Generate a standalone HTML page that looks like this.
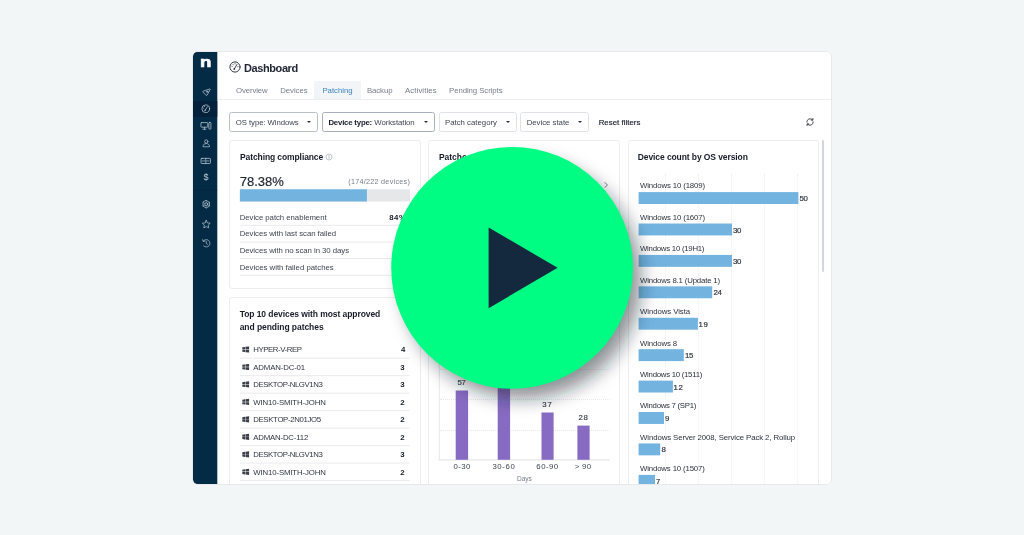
<!DOCTYPE html>
<html lang="en">
<head>
<meta charset="utf-8">
<title>Dashboard - Patching</title>
<style>
html,body{margin:0;padding:0;}
body{width:1024px;height:535px;overflow:hidden;background:#f3f6f7;font-family:"Liberation Sans", sans-serif;}
#stage{position:relative;width:1024px;height:535px;overflow:hidden;background:#f3f6f7;}
#app{position:absolute;left:192px;top:51px;width:640px;height:434px;background:#fff;border-radius:5px;overflow:hidden;filter:blur(0.4px);}
#app:after{content:'';position:absolute;left:0;top:0;right:0;bottom:0;border:1px solid #e6e9eb;border-radius:5px;pointer-events:none;}
#ui{position:absolute;left:-192px;top:-51px;width:1024px;height:535px;}
#ui div,#ui svg{position:absolute;}
.t{position:absolute;white-space:pre;line-height:1;}
#play{position:absolute;left:0;top:0;width:1024px;height:535px;}
</style>
</head>
<body>
<div id="stage">
<div id="app"><div id="ui">
<div style="left:314.4px;top:80.7px;width:46.4px;height:18.6px;background:#f1f5f8"></div>
<div style="left:217.0px;top:99.0px;width:614.0px;height:1.0px;background:#eceef0"></div>
<div style="left:229.0px;top:112.0px;width:89.0px;height:20.0px;border:1px solid #b9bfc8;border-radius:2.5px;box-sizing:border-box;background:#fff"></div>
<div style="left:322.0px;top:112.0px;width:113.0px;height:20.0px;border:1px solid #a9afbb;border-radius:2.5px;box-sizing:border-box;background:#fff"></div>
<div style="left:439.0px;top:112.0px;width:78.0px;height:20.0px;border:1px solid #dfe3e7;border-radius:2.5px;box-sizing:border-box;background:#fff"></div>
<div style="left:520.0px;top:112.0px;width:69.0px;height:20.0px;border:1px solid #dfe3e7;border-radius:2.5px;box-sizing:border-box;background:#fff"></div>
<div style="left:307.4px;top:121.2px;width:0;height:0;border-left:2.2px solid transparent;border-right:2.2px solid transparent;border-top:2.6px solid #2a2f3a"></div>
<div style="left:424.4px;top:121.2px;width:0;height:0;border-left:2.2px solid transparent;border-right:2.2px solid transparent;border-top:2.6px solid #2a2f3a"></div>
<div style="left:505.5px;top:121.2px;width:0;height:0;border-left:2.2px solid transparent;border-right:2.2px solid transparent;border-top:2.6px solid #2a2f3a"></div>
<div style="left:577.8px;top:121.2px;width:0;height:0;border-left:2.2px solid transparent;border-right:2.2px solid transparent;border-top:2.6px solid #2a2f3a"></div>
<div style="left:229.0px;top:140.0px;width:192.0px;height:149.0px;border:1px solid #ebedef;border-radius:3px;box-sizing:border-box;background:#fff"></div>
<div style="left:229.0px;top:297.0px;width:192.0px;height:203.0px;border:1px solid #ebedef;border-radius:3px;box-sizing:border-box;background:#fff"></div>
<div style="left:428.0px;top:140.0px;width:192.0px;height:360.0px;border:1px solid #ebedef;border-radius:3px;box-sizing:border-box;background:#fff"></div>
<div style="left:628.0px;top:140.0px;width:191.0px;height:360.0px;border:1px solid #ebedef;border-radius:3px;box-sizing:border-box;background:#fff"></div>
<div style="left:821.6px;top:140.4px;width:2.6px;height:131.6px;background:#d3d6da;border-radius:1.3px"></div>
<div style="left:664.5px;top:174.0px;width:1.0px;height:310.0px;border-left:1px dotted #eeeff1;box-sizing:border-box"></div>
<div style="left:697.7px;top:174.0px;width:1.0px;height:310.0px;border-left:1px dotted #eeeff1;box-sizing:border-box"></div>
<div style="left:730.9px;top:174.0px;width:1.0px;height:310.0px;border-left:1px dotted #eeeff1;box-sizing:border-box"></div>
<div style="left:764.1px;top:174.0px;width:1.0px;height:310.0px;border-left:1px dotted #eeeff1;box-sizing:border-box"></div>
<div style="left:797.3px;top:174.0px;width:1.0px;height:310.0px;border-left:1px dotted #eeeff1;box-sizing:border-box"></div>
<div style="left:439.5px;top:338.7px;width:170.5px;height:1.0px;border-top:1px dotted #e9eaec;box-sizing:border-box"></div>
<div style="left:439.5px;top:368.9px;width:170.5px;height:1.0px;border-top:1px dotted #e9eaec;box-sizing:border-box"></div>
<div style="left:439.5px;top:399.2px;width:170.5px;height:1.0px;border-top:1px dotted #e9eaec;box-sizing:border-box"></div>
<div style="left:439.5px;top:429.5px;width:170.5px;height:1.0px;border-top:1px dotted #e9eaec;box-sizing:border-box"></div>
<svg style="left:0;top:0" width="1024" height="535" viewBox="0 0 1024 535"><path d="M197.6 51.7 H217.3 V484.2 H197.6 A4.6 4.6 0 0 1 193 479.6 V56.3 A4.6 4.6 0 0 1 197.6 51.7 Z" fill="#042b46"/><rect x="193" y="101" width="24.3" height="15.8" fill="#03213a"/><rect x="193" y="189.8" width="24.3" height="0.9" fill="#03213a" opacity=".6"/><rect x="239.90" y="189.30" width="170.10" height="12.20" fill="#e6e7e9"/><rect x="239.90" y="189.30" width="127.00" height="12.20" fill="#72b3e0"/><rect x="239.90" y="224.80" width="169.80" height="1.00" fill="#e9eaed"/><rect x="239.90" y="241.60" width="169.80" height="1.00" fill="#e9eaed"/><rect x="239.90" y="258.00" width="169.80" height="1.00" fill="#e9eaed"/><rect x="239.90" y="274.80" width="169.80" height="1.00" fill="#e9eaed"/><rect x="239.90" y="357.70" width="169.80" height="1.00" fill="#e9eaed"/><path transform="translate(242.3 346.40)" fill="#3a3f4a" d="M0 0.9 L2.7 0.5 V2.85 H0 Z M3.15 0.45 L6.8 0 V2.85 H3.15 Z M0 3.3 H2.7 V5.65 L0 5.3 Z M3.15 3.3 H6.8 V6.2 L3.15 5.75 Z"/><rect x="239.90" y="375.18" width="169.80" height="1.00" fill="#e9eaed"/><path transform="translate(242.3 363.88)" fill="#3a3f4a" d="M0 0.9 L2.7 0.5 V2.85 H0 Z M3.15 0.45 L6.8 0 V2.85 H3.15 Z M0 3.3 H2.7 V5.65 L0 5.3 Z M3.15 3.3 H6.8 V6.2 L3.15 5.75 Z"/><rect x="239.90" y="392.66" width="169.80" height="1.00" fill="#e9eaed"/><path transform="translate(242.3 381.36)" fill="#3a3f4a" d="M0 0.9 L2.7 0.5 V2.85 H0 Z M3.15 0.45 L6.8 0 V2.85 H3.15 Z M0 3.3 H2.7 V5.65 L0 5.3 Z M3.15 3.3 H6.8 V6.2 L3.15 5.75 Z"/><rect x="239.90" y="410.14" width="169.80" height="1.00" fill="#e9eaed"/><path transform="translate(242.3 398.84)" fill="#3a3f4a" d="M0 0.9 L2.7 0.5 V2.85 H0 Z M3.15 0.45 L6.8 0 V2.85 H3.15 Z M0 3.3 H2.7 V5.65 L0 5.3 Z M3.15 3.3 H6.8 V6.2 L3.15 5.75 Z"/><rect x="239.90" y="427.62" width="169.80" height="1.00" fill="#e9eaed"/><path transform="translate(242.3 416.32)" fill="#3a3f4a" d="M0 0.9 L2.7 0.5 V2.85 H0 Z M3.15 0.45 L6.8 0 V2.85 H3.15 Z M0 3.3 H2.7 V5.65 L0 5.3 Z M3.15 3.3 H6.8 V6.2 L3.15 5.75 Z"/><rect x="239.90" y="445.10" width="169.80" height="1.00" fill="#e9eaed"/><path transform="translate(242.3 433.80)" fill="#3a3f4a" d="M0 0.9 L2.7 0.5 V2.85 H0 Z M3.15 0.45 L6.8 0 V2.85 H3.15 Z M0 3.3 H2.7 V5.65 L0 5.3 Z M3.15 3.3 H6.8 V6.2 L3.15 5.75 Z"/><rect x="239.90" y="462.58" width="169.80" height="1.00" fill="#e9eaed"/><path transform="translate(242.3 451.28)" fill="#3a3f4a" d="M0 0.9 L2.7 0.5 V2.85 H0 Z M3.15 0.45 L6.8 0 V2.85 H3.15 Z M0 3.3 H2.7 V5.65 L0 5.3 Z M3.15 3.3 H6.8 V6.2 L3.15 5.75 Z"/><rect x="239.90" y="480.06" width="169.80" height="1.00" fill="#e9eaed"/><path transform="translate(242.3 468.76)" fill="#3a3f4a" d="M0 0.9 L2.7 0.5 V2.85 H0 Z M3.15 0.45 L6.8 0 V2.85 H3.15 Z M0 3.3 H2.7 V5.65 L0 5.3 Z M3.15 3.3 H6.8 V6.2 L3.15 5.75 Z"/><rect x="638.60" y="192.10" width="159.80" height="11.90" fill="#72b3e0"/><rect x="638.60" y="223.52" width="93.40" height="11.90" fill="#72b3e0"/><rect x="638.60" y="254.94" width="93.40" height="11.90" fill="#72b3e0"/><rect x="638.60" y="286.36" width="73.60" height="11.90" fill="#72b3e0"/><rect x="638.60" y="317.78" width="59.30" height="11.90" fill="#72b3e0"/><rect x="638.60" y="349.20" width="45.20" height="11.90" fill="#72b3e0"/><rect x="638.60" y="380.62" width="34.30" height="11.90" fill="#72b3e0"/><rect x="638.60" y="412.04" width="25.40" height="11.90" fill="#72b3e0"/><rect x="638.60" y="443.46" width="21.60" height="11.90" fill="#72b3e0"/><rect x="638.60" y="474.88" width="16.40" height="11.90" fill="#72b3e0"/><rect x="438.80" y="330.00" width="0.90" height="130.30" fill="#e2e4e7"/><rect x="438.80" y="459.40" width="171.20" height="1.00" fill="#dfe1e4"/><rect x="455.70" y="390.50" width="12.40" height="69.30" fill="#876bc3"/><rect x="497.70" y="369.50" width="12.40" height="90.30" fill="#876bc3"/><rect x="541.50" y="412.50" width="12.10" height="47.30" fill="#876bc3"/><rect x="577.40" y="425.60" width="12.20" height="34.20" fill="#876bc3"/></svg>
<span class="t" style="z-index:4;left:200.3px;top:53.3px;font-size:16.5px;font-weight:700;color:#fff;-webkit-text-stroke:0.7px #fff;transform:scale(1.13,0.9);transform-origin:0 100%">n</span>
<svg style="left:200.60px;top:86.10px;z-index:4" width="11" height="11" viewBox="0 0 12 12" ><g stroke="#bccad4" stroke-width="0.8" fill="none" stroke-linecap="round" stroke-linejoin="round"><path d="M9.5 3.2 C9.9 3 10.2 3.4 10 3.8 L6.6 10 C6.3 10.5 5.8 10.5 5.5 10.1 L2.1 6.6 C1.8 6.2 1.9 5.8 2.4 5.6 Z"/><circle cx="6.6" cy="6.2" r="0.8"/></g></svg>
<svg style="left:200.25px;top:103.05px;z-index:4" width="11.5" height="11.5" viewBox="0 0 12 12" ><g stroke="#bccad4" stroke-width="0.8" fill="none" stroke-linecap="round" stroke-linejoin="round"><circle cx="6" cy="6" r="4.0"/><path d="M5.3 7.6 L7.7 3.9"/><circle cx="5.3" cy="7.6" r="0.7" fill="#bccad4" stroke="none"/><path d="M3.3 5.2 L3.6 5.4 M4.7 3.5 L4.9 3.8"/></g></svg>
<svg style="left:200.00px;top:120.30px;z-index:4" width="12" height="12" viewBox="0 0 13 13" ><g stroke="#bccad4" stroke-width="0.8" fill="none" stroke-linecap="round" stroke-linejoin="round"><rect x="1" y="2.8" width="7.4" height="5" rx="0.6"/><path d="M3.2 10 H6.4 M4.8 7.9 V9.9"/><rect x="9.6" y="2.6" width="2.2" height="7.4" rx="0.9"/></g></svg>
<svg style="left:200.75px;top:138.05px;z-index:4" width="10.5" height="10.5" viewBox="0 0 12 12" ><g stroke="#bccad4" stroke-width="0.8" fill="none" stroke-linecap="round" stroke-linejoin="round"><circle cx="6" cy="4" r="1.9"/><path d="M2.3 9.6 C2.3 7.2 4 6.4 6 6.4 C8 6.4 9.7 7.2 9.7 9.6 Z"/></g></svg>
<svg style="left:200.25px;top:154.65px;z-index:4" width="11.5" height="11.5" viewBox="0 0 12 12" ><g stroke="#bccad4" stroke-width="0.8" fill="none" stroke-linecap="round" stroke-linejoin="round"><rect x="1.1" y="3.5" width="9.8" height="5.4" rx="0.8"/><path d="M2.6 6.2 H5.2 M6.8 6.2 H9.4 M6 3.6 V8.8" stroke-width="0.7"/></g></svg>
<span class="t" style="z-index:4;left:203.5px;top:173.2px;font-size:9px;color:#bccad4">$</span>
<svg style="left:200.75px;top:199.05px;z-index:4" width="10.5" height="10.5" viewBox="0 0 12 12" ><g stroke="#bccad4" stroke-width="0.8" fill="none" stroke-linecap="round" stroke-linejoin="round"><path d="M6 1.7 L9.7 3.85 V8.15 L6 10.3 L2.3 8.15 V3.85 Z"/><circle cx="6" cy="6" r="1.7"/><path d="M6 1.7 V4.3 M6 7.7 V10.3 M2.3 3.85 L4.5 5.1 M9.7 3.85 L7.5 5.1 M2.3 8.15 L4.5 6.9 M9.7 8.15 L7.5 6.9" stroke-width="0.5"/></g></svg>
<svg style="left:200.75px;top:218.75px;z-index:4" width="10.5" height="10.5" viewBox="0 0 12 12" ><g stroke="#bccad4" stroke-width="0.8" fill="none" stroke-linecap="round" stroke-linejoin="round"><path d="M6 1.5 L7.35 4.4 L10.5 4.8 L8.2 7 L8.8 10.2 L6 8.65 L3.2 10.2 L3.8 7 L1.5 4.8 L4.65 4.4 Z"/></g></svg>
<svg style="left:200.75px;top:237.55px;z-index:4" width="10.5" height="10.5" viewBox="0 0 12 12" ><g stroke="#bccad4" stroke-width="0.8" fill="none" stroke-linecap="round" stroke-linejoin="round"><path d="M2.6 3.6 A4.2 4.2 0 1 1 3.1 9.1"/><path d="M2 1.9 L2.4 3.9 L4.4 3.6"/><path d="M6 4 V6.2 L7.4 7.2"/></g></svg>
<svg style="left:227.60px;top:60.30px;z-index:4" width="14" height="14" viewBox="0 0 14 14" ><g stroke="#2a2f3a" stroke-width="0.95" fill="none" stroke-linecap="round" stroke-linejoin="round"><circle cx="7" cy="7" r="5.1"/><path d="M6.3 8.9 L8.9 4.5"/><circle cx="6.3" cy="8.9" r="0.9" fill="#2a2f3a" stroke="none"/><path d="M3.8 6.3 L4.3 6.5 M5 4.4 L5.3 4.8 M7 3.4 V3.9 M10.2 6.6 L9.7 6.7" stroke-width="0.7"/></g></svg>
<svg style="left:324.50px;top:153.20px;z-index:4" width="8" height="8" viewBox="0 0 8 8" ><g stroke="#9aa0a9" stroke-width="0.6" fill="none"><circle cx="4" cy="4" r="3.0"/><path d="M4 3.7 V5.6 M4 2.4 V2.7" stroke-linecap="round"/></g></svg>
<svg style="left:805.40px;top:117.20px;z-index:4" width="10" height="10" viewBox="0 0 10 10" ><g stroke="#2a2f3a" stroke-width="0.85" fill="none" stroke-linecap="round" stroke-linejoin="round"><path d="M1.8 5.2 A3.3 3.3 0 0 1 7.6 2.9"/><path d="M8.2 4.8 A3.3 3.3 0 0 1 2.4 7.1"/><path d="M7.9 1.4 V3.1 H6.2"/><path d="M2.1 8.6 V6.9 H3.8"/></g></svg>
<svg style="left:602.00px;top:180.70px;z-index:4" width="8" height="8" viewBox="0 0 8 8" ><path d="M3 1.6 L5.4 4 L3 6.4" stroke="#5f646e" stroke-width="0.85" fill="none" stroke-linecap="round" stroke-linejoin="round"/></svg>
<span class="t" style="left:244.10px;top:63px;font-size:11px;font-weight:700;color:#222735;letter-spacing:-0.420px">Dashboard</span>
<span class="t" style="left:236.00px;top:87px;font-size:7.8px;color:#777d88;letter-spacing:-0.115px">Overview</span>
<span class="t" style="left:280.32px;top:87px;font-size:7.8px;color:#777d88;letter-spacing:-0.085px">Devices</span>
<span class="t" style="left:322.44px;top:87px;font-size:7.8px;color:#3d83bf;letter-spacing:-0.022px">Patching</span>
<span class="t" style="left:366.88px;top:87px;font-size:7.8px;color:#777d88;letter-spacing:-0.071px">Backup</span>
<span class="t" style="left:405.10px;top:87px;font-size:7.8px;color:#777d88;letter-spacing:0.076px">Activities</span>
<span class="t" style="left:449.10px;top:87px;font-size:7.8px;color:#777d88;letter-spacing:-0.083px">Pending Scripts</span>
<span class="t" style="left:235.78px;top:119px;font-size:7.8px;color:#3f444f;letter-spacing:-0.076px">OS type: Windows</span>
<span class="t" style="left:328.44px;top:119px;font-size:7.8px;font-weight:700;color:#171c28;letter-spacing:-0.197px">Device type:</span>
<span class="t" style="left:374.22px;top:119px;font-size:7.8px;color:#3f444f;letter-spacing:-0.055px">Workstation</span>
<span class="t" style="left:445.00px;top:119px;font-size:7.8px;color:#3f444f;letter-spacing:-0.001px">Patch category</span>
<span class="t" style="left:526.66px;top:119px;font-size:7.8px;color:#3f444f;letter-spacing:-0.015px">Device state</span>
<span class="t" style="left:598.66px;top:119px;font-size:7.8px;-webkit-text-stroke:0.18px #171c28;color:#171c28;letter-spacing:0.042px">Reset filters</span>
<span class="t" style="left:240.00px;top:153px;font-size:8.5px;font-weight:700;color:#171c28;letter-spacing:-0.100px">Patching compliance</span>
<span class="t" style="left:239.66px;top:175px;font-size:13px;-webkit-text-stroke:0.18px #222735;color:#222735;letter-spacing:0.012px">78.38%</span>
<span class="t" style="left:348.22px;top:178px;font-size:7.2px;color:#777d88;letter-spacing:0.277px">(174/222 devices)</span>
<span class="t" style="left:239.66px;top:214px;font-size:7.8px;color:#3f444f;letter-spacing:-0.047px">Device patch enablement</span>
<span class="t" style="left:389.32px;top:214px;font-size:7.8px;font-weight:700;color:#171c28;letter-spacing:0.470px">84%</span>
<span class="t" style="left:239.66px;top:230px;font-size:7.8px;color:#3f444f;letter-spacing:-0.040px">Devices with last scan failed</span>
<span class="t" style="left:239.66px;top:247px;font-size:7.8px;color:#3f444f;letter-spacing:-0.052px">Devices with no scan in 30 days</span>
<span class="t" style="left:239.66px;top:264px;font-size:7.8px;color:#3f444f;letter-spacing:0.000px">Devices with failed patches</span>
<span class="t" style="left:239.66px;top:310px;font-size:8.5px;font-weight:700;color:#171c28;letter-spacing:-0.073px">Top 10 devices with most approved</span>
<span class="t" style="left:239.66px;top:323px;font-size:8.5px;font-weight:700;color:#171c28;letter-spacing:-0.058px">and pending patches</span>
<span class="t" style="left:253.22px;top:346px;font-size:7.8px;color:#30353f;letter-spacing:-0.409px">HYPER-V-REP</span>
<span class="t" style="left:401.12px;top:346px;font-size:7.8px;font-weight:700;color:#171c28;letter-spacing:0.056px">4</span>
<span class="t" style="left:253.22px;top:364px;font-size:7.8px;color:#30353f;letter-spacing:-0.137px">ADMAN-DC-01</span>
<span class="t" style="left:400.32px;top:364px;font-size:7.8px;font-weight:700;color:#171c28;letter-spacing:0.056px">3</span>
<span class="t" style="left:253.22px;top:381px;font-size:7.8px;color:#30353f;letter-spacing:-0.408px">DESKTOP-NLGV1N3</span>
<span class="t" style="left:400.32px;top:381px;font-size:7.8px;font-weight:700;color:#171c28;letter-spacing:0.056px">3</span>
<span class="t" style="left:253.22px;top:399px;font-size:7.8px;color:#30353f;letter-spacing:-0.126px">WIN10-SMITH-JOHN</span>
<span class="t" style="left:400.32px;top:399px;font-size:7.8px;font-weight:700;color:#171c28;letter-spacing:0.056px">2</span>
<span class="t" style="left:253.22px;top:416px;font-size:7.8px;color:#30353f;letter-spacing:-0.339px">DESKTOP-2N01JO5</span>
<span class="t" style="left:400.32px;top:416px;font-size:7.8px;font-weight:700;color:#171c28;letter-spacing:0.056px">2</span>
<span class="t" style="left:253.22px;top:434px;font-size:7.8px;color:#30353f;letter-spacing:-0.176px">ADMAN-DC-112</span>
<span class="t" style="left:400.32px;top:434px;font-size:7.8px;font-weight:700;color:#171c28;letter-spacing:0.056px">2</span>
<span class="t" style="left:253.22px;top:451px;font-size:7.8px;color:#30353f;letter-spacing:-0.408px">DESKTOP-NLGV1N3</span>
<span class="t" style="left:400.32px;top:451px;font-size:7.8px;font-weight:700;color:#171c28;letter-spacing:0.056px">3</span>
<span class="t" style="left:253.22px;top:469px;font-size:7.8px;color:#30353f;letter-spacing:-0.126px">WIN10-SMITH-JOHN</span>
<span class="t" style="left:400.32px;top:469px;font-size:7.8px;font-weight:700;color:#171c28;letter-spacing:0.056px">2</span>
<span class="t" style="left:438.88px;top:153px;font-size:8.5px;font-weight:700;color:#171c28;letter-spacing:-0.017px">Patche</span>
<span class="t" style="left:457.56px;top:379px;font-size:7.8px;-webkit-text-stroke:0.18px #3a3f4a;color:#3a3f4a;letter-spacing:-0.494px">57</span>
<span class="t" style="left:542.32px;top:401px;font-size:7.8px;-webkit-text-stroke:0.18px #3a3f4a;color:#3a3f4a;letter-spacing:0.800px">37</span>
<span class="t" style="left:578.44px;top:414px;font-size:7.8px;-webkit-text-stroke:0.18px #3a3f4a;color:#3a3f4a;letter-spacing:0.640px">28</span>
<span class="t" style="left:453.44px;top:463px;font-size:7.8px;color:#3f444f;letter-spacing:0.404px">0-30</span>
<span class="t" style="left:492.42px;top:463px;font-size:7.8px;color:#3f444f;letter-spacing:0.609px">30-60</span>
<span class="t" style="left:536.32px;top:463px;font-size:7.8px;color:#3f444f;letter-spacing:0.489px">60-90</span>
<span class="t" style="left:574.76px;top:463px;font-size:7.8px;color:#3f444f;letter-spacing:0.318px">&gt; 90</span>
<span class="t" style="left:517.00px;top:476px;font-size:6.5px;color:#777d88;letter-spacing:-0.050px">Days</span>
<span class="t" style="left:637.76px;top:153px;font-size:8.5px;font-weight:700;color:#171c28;letter-spacing:-0.092px">Device count by OS version</span>
<span class="t" style="left:640.00px;top:182px;font-size:7.8px;color:#2c313b;letter-spacing:-0.133px">Windows 10 (1809)</span>
<span class="t" style="left:799.44px;top:195px;font-size:7.8px;-webkit-text-stroke:0.18px #2c313b;color:#2c313b;letter-spacing:-0.274px">50</span>
<span class="t" style="left:640.00px;top:214px;font-size:7.8px;color:#2c313b;letter-spacing:-0.133px">Windows 10 (1607)</span>
<span class="t" style="left:732.88px;top:227px;font-size:7.8px;-webkit-text-stroke:0.18px #2c313b;color:#2c313b;letter-spacing:-0.274px">30</span>
<span class="t" style="left:640.00px;top:245px;font-size:7.8px;color:#2c313b;letter-spacing:-0.250px">Windows 10 (19H1)</span>
<span class="t" style="left:732.88px;top:258px;font-size:7.8px;-webkit-text-stroke:0.18px #2c313b;color:#2c313b;letter-spacing:-0.274px">30</span>
<span class="t" style="left:640.00px;top:277px;font-size:7.8px;color:#2c313b;letter-spacing:-0.169px">Windows 8.1 (Update 1)</span>
<span class="t" style="left:713.56px;top:289px;font-size:7.8px;-webkit-text-stroke:0.18px #2c313b;color:#2c313b;letter-spacing:-0.274px">24</span>
<span class="t" style="left:640.00px;top:308px;font-size:7.8px;color:#2c313b;letter-spacing:-0.077px">Windows Vista</span>
<span class="t" style="left:698.54px;top:321px;font-size:7.8px;-webkit-text-stroke:0.18px #2c313b;color:#2c313b;letter-spacing:0.526px">19</span>
<span class="t" style="left:640.00px;top:340px;font-size:7.8px;color:#2c313b;letter-spacing:-0.127px">Windows 8</span>
<span class="t" style="left:685.00px;top:352px;font-size:7.8px;-webkit-text-stroke:0.18px #2c313b;color:#2c313b;letter-spacing:-0.274px">15</span>
<span class="t" style="left:640.00px;top:371px;font-size:7.8px;color:#2c313b;letter-spacing:-0.266px">Windows 10 (1511)</span>
<span class="t" style="left:673.54px;top:384px;font-size:7.8px;-webkit-text-stroke:0.18px #2c313b;color:#2c313b;letter-spacing:0.526px">12</span>
<span class="t" style="left:640.00px;top:402px;font-size:7.8px;color:#2c313b;letter-spacing:-0.282px">Windows 7 (SP1)</span>
<span class="t" style="left:664.88px;top:415px;font-size:7.8px;-webkit-text-stroke:0.18px #2c313b;color:#2c313b;letter-spacing:-0.344px">9</span>
<span class="t" style="left:640.00px;top:434px;font-size:7.8px;color:#2c313b;letter-spacing:-0.094px">Windows Server 2008, Service Pack 2, Rollup</span>
<span class="t" style="left:661.56px;top:446px;font-size:7.8px;-webkit-text-stroke:0.18px #2c313b;color:#2c313b;letter-spacing:-0.344px">8</span>
<span class="t" style="left:640.00px;top:465px;font-size:7.8px;color:#2c313b;letter-spacing:-0.146px">Windows 10 (1507)</span>
<span class="t" style="left:655.88px;top:478px;font-size:7.8px;-webkit-text-stroke:0.18px #2c313b;color:#2c313b;letter-spacing:-0.344px">7</span>
</div></div>
<svg id="play" width="1024" height="535" viewBox="0 0 1024 535">
<defs><filter id="sh" x="-30%" y="-30%" width="160%" height="160%"><feGaussianBlur stdDeviation="9"/></filter></defs>
<circle cx="522" cy="279.5" r="119" fill="rgba(25,30,40,.5)" filter="url(#sh)"/>
<circle cx="512.1" cy="267.8" r="120.9" fill="#00fd83"/>
<path d="M488.6 227.5 L488.6 308.2 L557.6 267.8 Z" fill="#14293d"/>
</svg>
</div>
</body>
</html>
